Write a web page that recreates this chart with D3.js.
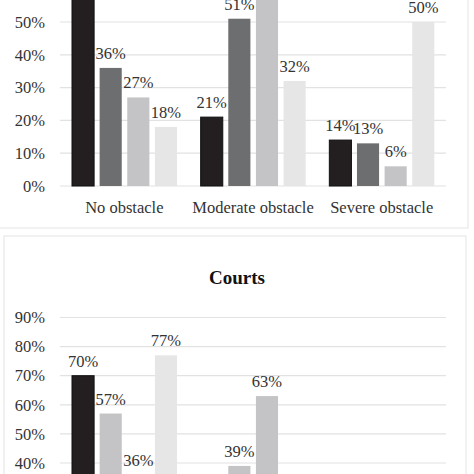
<!DOCTYPE html>
<html><head><meta charset="utf-8">
<script src="https://cdn.jsdelivr.net/npm/d3@7"></script>
<style>body{margin:0;background:#fff}svg{display:block}</style>
</head><body>
<script>
// categories and values
const categories = ["No obstacle", "Moderate obstacle", "Severe obstacle"];
const topSeries = [
  [65, 21, 14],
  [36, 51, 13],
  [27, 67, 6],
  [18, 32, 50]
];
const courtsSeries = [
  [70, 22, 8],
  [57, 39, 4],
  [36, 63, 1],
  [77, 18, 5]
];
const topColors = ["#231f20", "#6d6e70", "#c4c4c6", "#e6e6e7"];
const courtsColors = ["#231f20", "#c4c4c6", "#c4c4c6", "#e6e6e7"];
const topTicks = [0, 10, 20, 30, 40, 50, 60];
const courtsTicks = [0, 10, 20, 30, 40, 50, 60, 70, 80, 90];

const W = 474, H = 474;
const FS = 16.5;
const svg = d3.select("body").append("svg").attr("width", W).attr("height", H)
  .style("font-family", "'Liberation Serif', 'Times New Roman', serif");

// panel frames
svg.append("rect").attr("x", -2).attr("y", -10).attr("width", 470).attr("height", 238)
  .attr("fill", "none").attr("stroke", "#e4e4e4");
svg.append("rect").attr("x", 4).attr("y", 236).attr("width", 462).attr("height", 260)
  .attr("fill", "none").attr("stroke", "#e4e4e4");

const x0 = d3.scaleBand().domain(categories).range([60, 446]);
const x1 = d3.scaleBand().domain(d3.range(4)).range([12, 117]).paddingInner(0.2);

function panel(series, colors, ticks, y, clipTop, clipBottom, showX, id) {
  const g = svg.append("g");
  ticks.forEach(t => {
    g.append("line").attr("x1", 60).attr("x2", 446).attr("y1", y(t)).attr("y2", y(t))
      .attr("stroke", "#e2e2e2").attr("stroke-width", 1.2);
    g.append("text").attr("x", 45).attr("y", y(t)).attr("dy", "0.35em")
      .attr("text-anchor", "end").attr("font-size", FS).attr("fill", "#333").text(t + "%");
  });
  svg.append("clipPath").attr("id", id).append("rect")
    .attr("x", 0).attr("y", clipTop).attr("width", W).attr("height", clipBottom - clipTop);
  const bars = g.append("g").attr("clip-path", `url(#${id})`);
  series.forEach((vals, s) => {
    vals.forEach((v, c) => {
      const bx = x0(categories[c]) + x1(s);
      bars.append("rect").attr("x", bx).attr("width", x1.bandwidth())
        .attr("y", y(v)).attr("height", y(0) - y(v)).attr("fill", colors[s])
        .attr("stroke", s === 0 ? "#111" : "none");
      g.append("text").attr("x", bx + x1.bandwidth() / 2).attr("y", y(v) - 9)
        .attr("text-anchor", "middle").attr("font-size", FS).attr("fill", "#333").text(v + "%");
    });
  });
  if (showX) {
    categories.forEach(c => {
      g.append("text").attr("x", x0(c) + x0.bandwidth() / 2).attr("y", 213)
        .attr("text-anchor", "middle").attr("font-size", FS).attr("fill", "#333").text(c);
    });
  }
}

const yTop = d3.scaleLinear().domain([0, 50]).range([186, 22]);
panel(topSeries, topColors, topTicks, yTop, -10, 228, true, "c1");

const yCourts = d3.scaleLinear().domain([40, 90]).range([463, 317.5]);
panel(courtsSeries, courtsColors, courtsTicks.filter(t => t >= 40), yCourts, 300, 480, false, "c2");

svg.append("text").attr("x", 237).attr("y", 284).attr("text-anchor", "middle")
  .attr("font-size", 19).attr("font-weight", "bold").attr("fill", "#111").text("Courts");
</script>
</body></html>
